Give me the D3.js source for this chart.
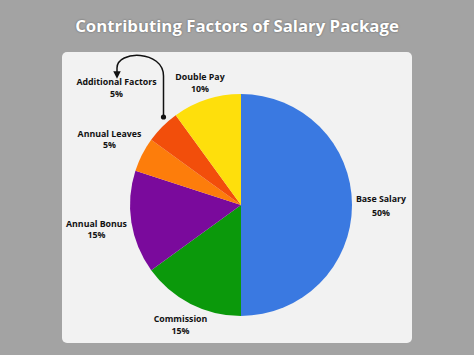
<!DOCTYPE html>
<html><head><meta charset="utf-8">
<script src="https://cdn.jsdelivr.net/npm/d3@7"></script>
<style>
html,body{margin:0;padding:0;background:#a3a3a3;}
svg{display:block;}
</style></head>
<body>
<svg id="chart" width="474" height="355"></svg>
<script>
const categories = ["Base Salary","Commission","Annual Bonus","Annual Leaves","Additional Factors","Double Pay"];
const values = [50,15,15,5,5,10];
const valueLabels = ["50%","15%","15%","5%","5%","10%"];
const colors = ["#3a79e1","#0b990b","#7a0a9c","#fd7d0b","#f24e0b","#fedf0c"];
const title = "Contributing Factors of Salary Package";

const svg = d3.select("#chart");
const W = 474, H = 355;
svg.append("rect").attr("width",W).attr("height",H).attr("fill","#a3a3a3");
svg.append("rect").attr("x",62).attr("y",52).attr("width",350).attr("height",291).attr("rx",5).attr("fill","#f2f2f2");

svg.append("text").attr("x",237).attr("y",31.5).attr("text-anchor","middle")
  .attr("font-family","'Open Sans', sans-serif").attr("font-weight",700).attr("font-size",16.8)
  .attr("fill","#ffffff").style("text-shadow","0 0 2px rgba(0,0,0,0.45)")
  .text(title);

const cx = 241, cy = 205, r = 111;
const pie = d3.pie().sort(null).value(d=>d)(values);
const arc = d3.arc().innerRadius(0).outerRadius(r);
const g = svg.append("g").attr("transform",`translate(${cx},${cy})`);
g.selectAll("path").data(pie).enter().append("path")
  .attr("d",arc).attr("fill",(d,i)=>colors[i]);

const labelPos = [[381,201.5,215.5],[180.5,322,333.5],[96.5,226.5,238],[109.5,136.5,148],[116.5,85,96.5],[200,79.5,92]];
const lg = svg.append("g").attr("font-family","'Open Sans', sans-serif").attr("font-weight",700)
  .attr("font-size",8.8).attr("fill","#111").attr("text-anchor","middle");
categories.forEach((c,i)=>{
  lg.append("text").attr("x",labelPos[i][0]).attr("y",labelPos[i][1]).text(c);
  lg.append("text").attr("x",labelPos[i][0]).attr("y",labelPos[i][2]).text(valueLabels[i]);
});

// annotation arrow
svg.append("defs").append("marker").attr("id","ah").attr("viewBox","0 0 10 10")
  .attr("refX",5).attr("refY",5).attr("markerWidth",5).attr("markerHeight",5).attr("orient","auto")
  .append("path").attr("d","M0,0 L10,5 L0,10 Z").attr("fill","#111");
svg.append("path").attr("d","M163.5,117 L163.5,76 C163.5,50 117,50 117,68 L117,75")
  .attr("fill","none").attr("stroke","#111").attr("stroke-width",1.5).attr("marker-end","url(#ah)");
svg.append("circle").attr("cx",163.5).attr("cy",117).attr("r",2.6).attr("fill","#111");
</script>
</body></html>
